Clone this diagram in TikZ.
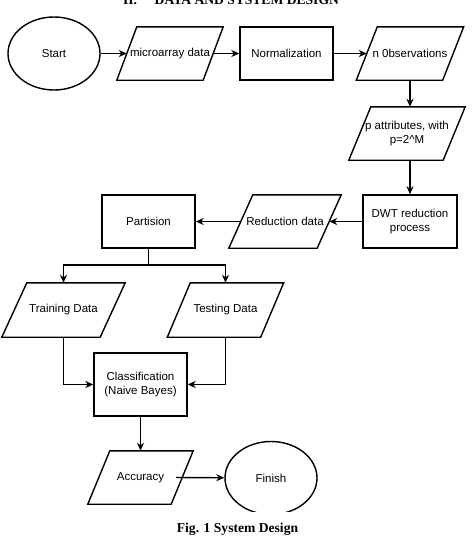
\documentclass[tikz,border=0pt]{standalone}
\usepackage{fontspec}
\setmainfont{Liberation Serif}
\newfontfamily\arialf{Liberation Sans}
\usetikzlibrary{arrows.meta,shapes.geometric}
\newcommand\drawpara[2]{\draw[shapeline] ([xshift=#2]#1.north west) -- ([xshift=#2]#1.north east) -- ([xshift=-#2]#1.south east) -- ([xshift=-#2]#1.south west) -- cycle;}
\begin{document}
\begin{tikzpicture}[x=1pt,y=-1pt,
  every node/.style={font=\arialf\fontsize{11.5}{13.5}\selectfont, align=center, inner sep=0pt},
  shapeline/.style={line width=1.4pt},
  procbox/.style={draw, shapeline, minimum width=#1, minimum height=53pt},
  iobox/.style={minimum width=#1, minimum height=53pt},
  termbox/.style={draw, shapeline, ellipse, minimum width=92pt, minimum height=73pt},
  arr/.style={line width=1.4pt, -{Stealth[length=8pt,width=7pt,inset=2.5pt]}},
  plain/.style={line width=1.4pt},
  caption/.style={font=\bfseries\fontsize{13.6}{15}\selectfont}
]
\useasboundingbox (0,0) rectangle (474,536);
\clip (0,0) rectangle (474,536);
\node[caption, anchor=base] (hdr) at (231,4.5) {II.\hspace{1.3em}DATA AND SYSTEM DESIGN};

\node[termbox] (start) at (54,53.5) {Start};
\node[iobox=86pt] (micro) at (170,53.5) {microarray data};
\node[procbox=93pt] (norm) at (286.5,53.5) {Normalization};
\node[iobox=86pt] (nobs) at (410,53.5) {n 0bservations};
\node[iobox=94pt] (patt) at (407,133.5) {p attributes, with\\p=2\^{}M};
\node[procbox=94pt] (dwt) at (410,221.5) {DWT reduction\\process};
\node[iobox=88pt] (red) at (285,221.5) {Reduction data};
\node[procbox=93pt] (part) at (148.5,221.5) {Partision};
\node[iobox=98pt, minimum height=54pt] (train) at (63.5,310) {Training Data};
\node[iobox=93pt, minimum height=54pt] (test) at (225.5,310) {Testing Data};
\node[procbox=93pt, minimum height=63pt] (class) at (140.5,384.5) {Classification\\(Naive Bayes)};
\node[iobox=83pt] (acc) at (140.5,477.5) {Accuracy};
\node[termbox, minimum height=73pt] (finish) at (271,478) {Finish};

\drawpara{micro}{10pt}
\drawpara{nobs}{10.5pt}
\drawpara{patt}{11pt}
\drawpara{red}{12pt}
\drawpara{train}{12.5pt}
\drawpara{test}{11.5pt}
\drawpara{acc}{11pt}

\draw[arr] (start) -- (micro);
\draw[arr] (micro) -- (norm);
\draw[arr] (norm) -- (nobs);
\draw[arr] (nobs.south) -- (nobs.south |- patt.north);
\draw[arr] (dwt.north |- patt.south) -- (dwt.north);
\draw[arr] (dwt) -- (red);
\draw[arr] (red) -- (part);
\coordinate (j) at (148.5,265);
\draw[plain] (part.south) -- (j);
\draw[arr] (j) -| (train.north);
\draw[arr] (j) -| (test.north);
\draw[arr] (train.south) |- (class.west);
\draw[arr] (test.south) |- (class.east);
\draw[arr] (class) -- (acc);
\draw[arr] ([xshift=-6pt]acc.east) -- (finish);

\fill[white] (0,512) rectangle (474,536);
\node[caption, anchor=base] (cap) at (237.5,532) {Fig. 1 System Design};
\end{tikzpicture}
\end{document}
